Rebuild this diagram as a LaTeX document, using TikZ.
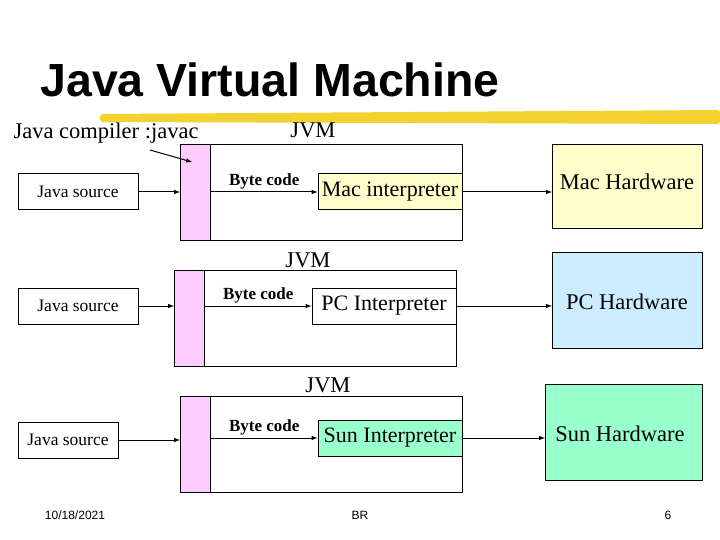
\documentclass[tikz,border=0pt]{standalone}
\usepackage{fontspec}
\setmainfont{Liberation Serif}
\newfontfamily\sansfont{Liberation Sans}
\usetikzlibrary{calc}
\definecolor{macyellow}{HTML}{FFFFCC}
\definecolor{pcblue}{HTML}{CCECFF}
\definecolor{sungreen}{HTML}{99FFCC}
\definecolor{barpink}{HTML}{FFCCFF}
\definecolor{brush}{HTML}{F2D230}
\tikzstyle{src} = [draw, minimum width=120pt, minimum height=36pt, inner sep=2pt, font=\fontsize{17.5}{17.5}\selectfont]
\tikzstyle{interp} = [draw, minimum width=144pt, minimum height=36pt, inner sep=0pt, font=\fontsize{22}{22}\selectfont]
\tikzstyle{hw} = [draw, minimum width=150pt, minimum height=90pt, anchor=north west]
\tikzstyle{jvm} = [draw, minimum width=282pt, minimum height=96pt, anchor=north west]
\tikzstyle{bar} = [draw, fill=barpink, minimum width=30pt, minimum height=96pt, anchor=north west]
\tikzstyle{lbl} = [font=\fontsize{22.5}{22.5}\selectfont]
\tikzstyle{bc} = [font=\bfseries\fontsize{17}{17}\selectfont, inner sep=2pt]
\begin{document}
\begin{tikzpicture}[x=1pt,y=-1pt,>=latex,line width=1pt]
    \useasboundingbox (0,0) rectangle (720,540);
    % title
    \fill[brush, rounded corners=3pt] (100,114) -- (720,110) -- (720,124) -- (100,122) -- cycle;
    \node[font=\sansfont\bfseries\fontsize{46.5}{46.5}\selectfont] (title) at (270,80) {Java Virtual Machine};
    \node[lbl] (javac) at (106,133) {Java compiler :javac};
    % row 1
    \node[jvm] (jvm1) at (180,144) {};
    \node[bar] (bar1) at (180,144) {};
    \node[lbl] at (313,130) {JVM};
    \node[src] (src1) at (78,192) {Java source};
    \node[interp, fill=macyellow] (int1) at (390,192) {Mac interpreter};
    \node[hw, fill=macyellow, minimum height=84pt] (hw1) at (552,144) {};
    \node[lbl] at (627,182) {Mac Hardware};
    \draw[->] (src1) -- (bar1.west |- src1);
    \draw[->] (bar1.east |- src1) -- node[bc, above] {Byte code} (int1);
    \draw[->] (int1) -- (hw1.west |- int1);
    \coordinate (javacend) at (192,162);
    \draw[->] (150,150) -- (javacend);
    % row 2
    \node[jvm] (jvm2) at (174,270) {};
    \node[bar] (bar2) at (174,270) {};
    \node[lbl] at (308,260) {JVM};
    \node[src] (src2) at (78,306) {Java source};
    \node[interp, fill=white] (int2) at (384,306) {PC Interpreter};
    \node[hw, fill=pcblue, minimum height=96pt] (hw2) at (552,252) {};
    \node[lbl] at (627,302) {PC Hardware};
    \draw[->] (src2) -- (bar2.west |- src2);
    \draw[->] (bar2.east |- src2) -- node[bc, above] {Byte code} (int2);
    \draw[->] (int2) -- (hw2.west |- int2);
    % row 3
    \node[jvm] (jvm3) at (180,396) {};
    \node[bar] (bar3) at (180,396) {};
    \node[lbl] at (328,385) {JVM};
    \node[src, minimum width=100pt] (src3) at (68,440) {Java source};
    \node[interp, fill=sungreen] (int3) at (390,438) {Sun Interpreter};
    \node[hw, fill=sungreen, minimum width=157pt, minimum height=96pt] (hw3) at (545,384) {};
    \node[lbl] at (620,434) {Sun Hardware};
    \draw[->] (src3) -- (bar3.west |- src3);
    \draw[->] (bar3.east |- int3) -- node[bc, above] {Byte code} (int3);
    \draw[->] (int3) -- (hw3.west |- int3);
    % footer
    \node[font=\sansfont\fontsize{12}{12}\selectfont] (date) at (75,515) {10/18/2021};
    \node[font=\sansfont\fontsize{12}{12}\selectfont] (author) at (360,515) {BR};
    \node[font=\sansfont\fontsize{12}{12}\selectfont] (page) at (668,515) {6};
\end{tikzpicture}
\end{document}
